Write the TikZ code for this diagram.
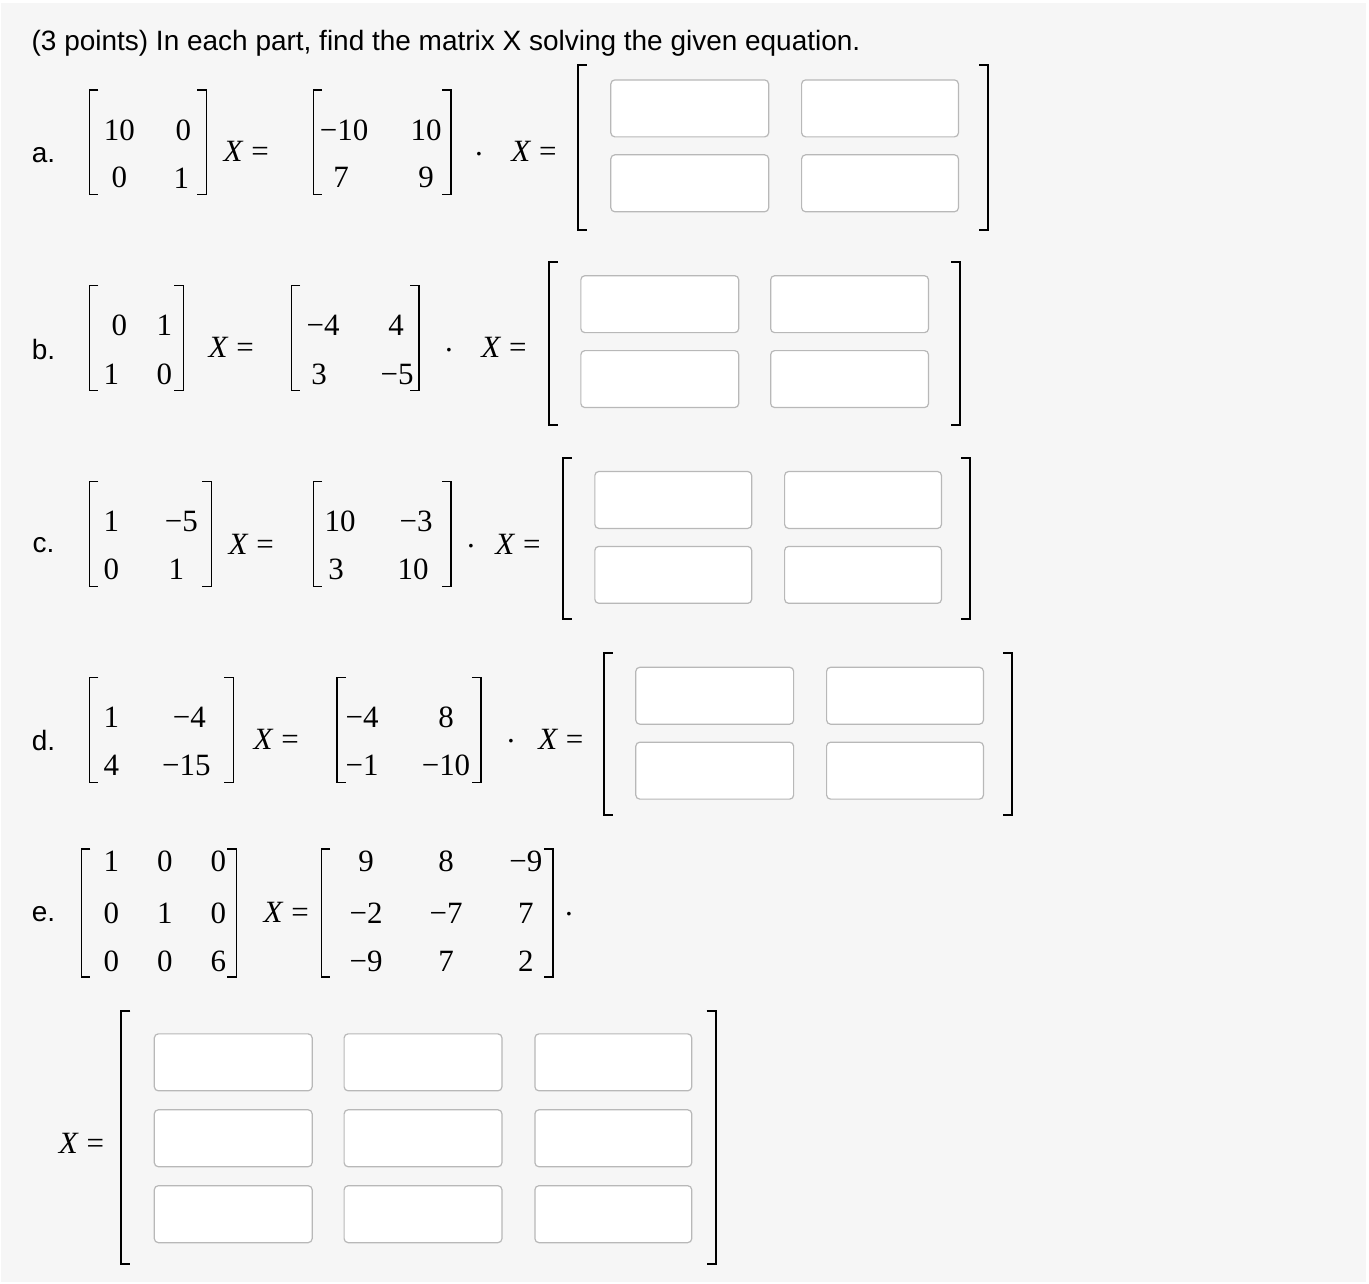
\documentclass[tikz,border=0pt]{standalone}
\usepackage{fontspec}
\setmainfont{Liberation Serif}
\newfontfamily\hv{Liberation Sans}
\definecolor{bg}{gray}{0.965}
\definecolor{bx}{gray}{0.72}
\newcommand\lbr[4]{\draw[line width=#4] (#1+9,#2)--(#1,#2)--(#1,#3)--(#1+9,#3);}
\newcommand\rbr[4]{\draw[line width=#4] (#1-9,#2)--(#1,#2)--(#1,#3)--(#1-9,#3);}
\newcommand\bxx[4]{\draw[bx,fill=white,rounded corners=4pt,line width=1.2pt] (#1,#3) rectangle (#2,#4);}
\tikzset{num/.style={font=\fontsize{31}{34}\selectfont,inner sep=0pt},
 lab/.style={font=\hv\fontsize{28}{32}\selectfont,inner sep=0pt}}
\newcommand\xeq[2]{\node[num] at (#1,#2) {\textit{X} =};}
\newcommand\dotp[2]{\node[num] at (#1,#2+2) {.};}
\begin{document}
\begin{tikzpicture}[x=1pt,y=-1pt]
\fill[bg] (0,0) rectangle (1369,1283);
\draw[white,line width=3pt] (0,1.5)--(1367.5,1.5)--(1367.5,1283);
\node[lab,anchor=west] (t) at (30,43) {(3 points) In each part, find the matrix X solving the given equation.};
% a
\node[lab] at (42,155) {a.};
\lbr{88}{90}{195}{1.3pt}\rbr{205}{90}{195}{1.3pt}
\node[num] at (118,130){10};\node[num] at (182,130){0};\node[num] at (118,178){0};\node[num] at (180,178){1};
\xeq{245}{152}
\lbr{312}{90}{195}{1.3pt}\rbr{450}{90}{195}{1.3pt}
\node[num] at (343,130){−10};\node[num] at (425,130){10};\node[num] at (340,178){7};\node[num] at (425,178){9};
\dotp{478}{152}\xeq{533}{152}
\lbr{577}{65}{230}{2pt}\rbr{988}{65}{230}{2pt}
\bxx{610}{768}{80}{137}\bxx{801}{958}{80}{137}\bxx{610}{768}{155}{212}\bxx{801}{958}{155}{212}
% b
\node[lab] at (42,350) {b.};
\lbr{88}{286}{391}{1.3pt}\rbr{182}{286}{391}{1.3pt}
\node[num] at (118,326){0};\node[num] at (163,326){1};\node[num] at (110,375){1};\node[num] at (163,375){0};
\xeq{230}{348}
\lbr{290}{286}{391}{1.3pt}\rbr{418}{286}{391}{1.3pt}
\node[num] at (322,326){−4};\node[num] at (395,326){4};\node[num] at (318,375){3};\node[num] at (396,375){−5};
\dotp{448}{348}\xeq{503}{348}
\lbr{548}{262}{425}{2pt}\rbr{960}{262}{425}{2pt}
\bxx{580}{738}{276}{333}\bxx{770}{928}{276}{333}\bxx{580}{738}{351}{408}\bxx{770}{928}{351}{408}
% c
\node[lab] at (42,546) {c.};
\lbr{88}{482}{587}{1.3pt}\rbr{210}{482}{587}{1.3pt}
\node[num] at (110,522){1};\node[num] at (180,522){−5};\node[num] at (110,570){0};\node[num] at (175,570){1};
\xeq{250}{545}
\lbr{312}{482}{587}{1.3pt}\rbr{450}{482}{587}{1.3pt}
\node[num] at (339,522){10};\node[num] at (415,522){−3};\node[num] at (335,570){3};\node[num] at (412,570){10};
\dotp{470}{545}\xeq{517}{545}
\lbr{562}{458}{620}{2pt}\rbr{970}{458}{620}{2pt}
\bxx{594}{751}{472}{529}\bxx{784}{941}{472}{529}\bxx{594}{751}{547}{604}\bxx{784}{941}{547}{604}
% d
\node[lab] at (42,741) {d.};
\lbr{88}{678}{783}{1.3pt}\rbr{232}{678}{783}{1.3pt}
\node[num] at (110,718){1};\node[num] at (188,718){−4};\node[num] at (110,766){4};\node[num] at (185,766){−15};
\xeq{275}{740}
\lbr{336}{678}{783}{1.3pt}\rbr{480}{678}{783}{1.3pt}
\node[num] at (361,718){−4};\node[num] at (445,718){8};\node[num] at (361,766){−1};\node[num] at (445,766){−10};
\dotp{510}{740}\xeq{560}{740}
\lbr{603}{654}{816}{2pt}\rbr{1012}{654}{816}{2pt}
\bxx{635}{793}{668}{725}\bxx{826}{983}{668}{725}\bxx{635}{793}{743}{800}\bxx{826}{983}{743}{800}
% e
\node[lab] at (42,915) {e.};
\lbr{80}{850}{978}{1.3pt}\rbr{235}{850}{978}{1.3pt}
\foreach \r/\y in {{1,0,0}/862,{0,1,0}/914,{0,0,6}/962}{
 \foreach \v [count=\i] in \r { \node[num] at ({110+(\i-1)*53.5},\y){\v}; } }
\xeq{285}{913}
\lbr{320}{850}{978}{1.3pt}\rbr{552}{850}{978}{1.3pt}
\foreach \r/\y in {{9,8,−9}/862,{−2,−7,7}/914,{−9,7,2}/962}{
 \foreach \v [count=\i] in \r { \node[num] at ({365+(\i-1)*80},\y){\v}; } }
\dotp{568}{913}
\xeq{80}{1145}
\lbr{120}{1012}{1265}{2pt}\rbr{715}{1012}{1265}{2pt}
\foreach \ya/\yb in {1035/1092,1111/1168,1187/1244}{
 \bxx{153}{311}{\ya}{\yb}\bxx{343}{501}{\ya}{\yb}\bxx{534}{691}{\ya}{\yb}}
\end{tikzpicture}
\end{document}
